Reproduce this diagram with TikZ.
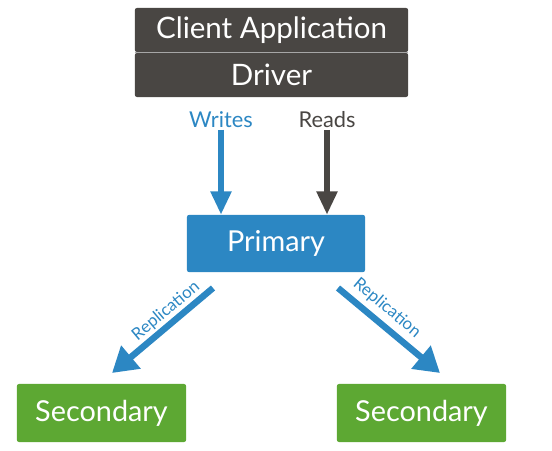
\documentclass[tikz,border=0pt]{standalone}
\usepackage{fontspec}
\setmainfont{Lato}
\usetikzlibrary{arrows.meta}
\definecolor{darkbox}{HTML}{494643}
\definecolor{bluebox}{HTML}{2C87C3}
\definecolor{greenbox}{HTML}{5DA833}

\begin{document}
\begin{tikzpicture}[x=0.025cm, y=-0.025cm,
    box/.style={rounded corners=1.5pt, text=white, minimum width=6.83cm, minimum height=1.1cm, inner sep=0pt},
    clientbox/.style={box, fill=darkbox, font=\fontsize{21}{24}\selectfont},
    primbox/.style={box, fill=bluebox, minimum width=4.45cm, minimum height=1.43cm, font=\fontsize{20.5}{24}\selectfont},
    secbox/.style={box, fill=greenbox, minimum width=4.23cm, minimum height=1.45cm, font=\fontsize{20.5}{24}\selectfont},
    lbl/.style={font=\fontsize{15.5}{18}\selectfont, inner sep=1pt},
    thick arrow/.style={line width=3.8pt, -{Triangle[width=0.5cm, length=0.58cm]}},
    rep arrow/.style={line width=4.6pt, -{Triangle[width=0.72cm, length=0.62cm]}},
    replbl/.style={font=\fontsize{12}{14}\selectfont, text=bluebox, inner sep=0pt}]
    \useasboundingbox (0,0) rectangle (552,451);

    % client side
    \draw (271.5, 30) node(client)[clientbox]{Client Application};
    \draw (271.5, 75) node(driver)[clientbox]{Driver};
    \draw[gray!70, line width=1pt] (client.south west) -- (client.south east);

    % primary
    \draw (276, 243.5) node(primary)[primbox]{Primary};
    \draw (221, 120) node(writes)[lbl, text=bluebox]{Writes};
    \draw (327, 120) node(reads)[lbl, text=darkbox]{Reads};
    \draw[thick arrow, bluebox] (writes.south) -- (writes |- primary.north);
    \draw[thick arrow, darkbox] (reads.south) -- (reads |- primary.north);

    % secondaries
    \draw (101.5, 413) node(sec1)[secbox]{Secondary};
    \draw (421.5, 413) node(sec2)[secbox]{Secondary};
    \coordinate (repL) at (213, 288);
    \coordinate (repR) at (338, 288);
    \coordinate (tipL) at (112, 373);
    \coordinate (tipR) at (440, 373);
    \draw[rep arrow, bluebox] (repL) -- (tipL);
    \draw[rep arrow, bluebox] (repR) -- (tipR);
    \draw (166, 311) node(repL lbl)[replbl, rotate=40]{Replication};
    \draw (387, 308) node(repR lbl)[replbl, rotate=-40]{Replication};
\end{tikzpicture}
\end{document}
